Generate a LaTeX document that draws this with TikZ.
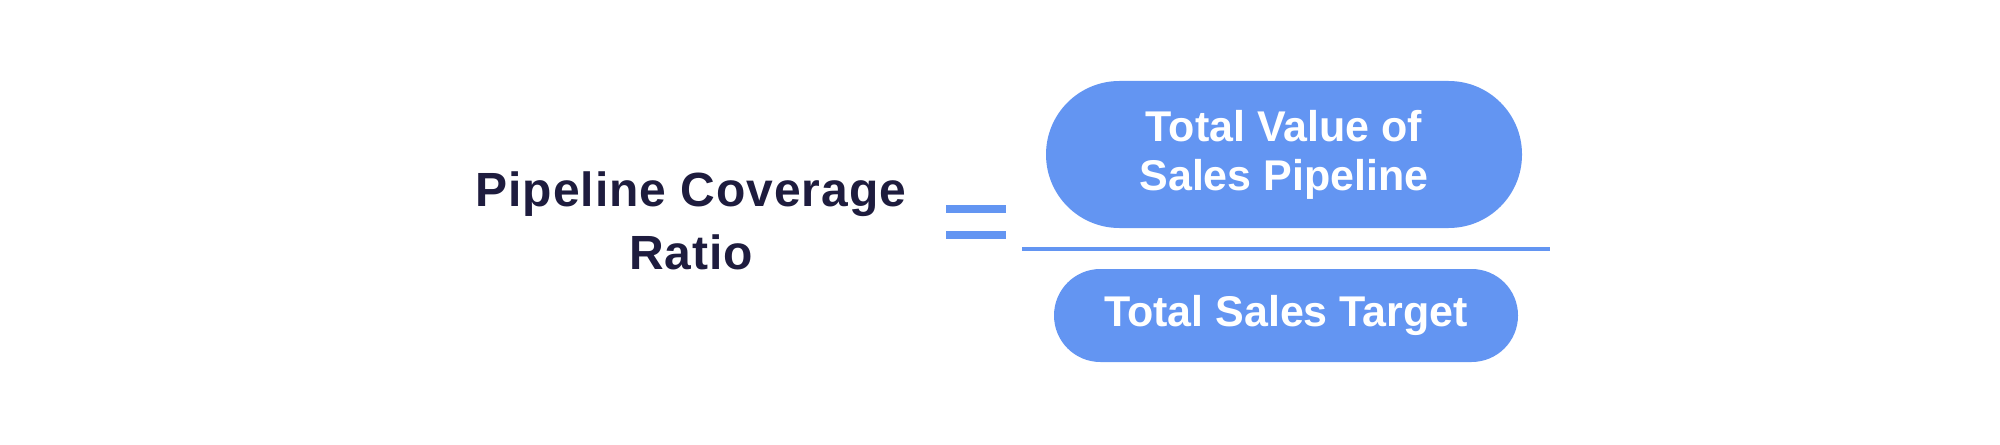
\documentclass[tikz,border=0pt]{standalone}
\usepackage{fontspec}
\setmainfont{Liberation Sans}
\newfontfamily\ratiofont[LetterSpace=2]{Liberation Sans}
\definecolor{pipeblue}{HTML}{6395F2}
\definecolor{inkdark}{HTML}{1E1C3E}
\tikzset{
  pill/.style={fill=pipeblue, text=white, align=center, inner sep=0pt,
    font=\bfseries\fontsize{21.5}{24.5}\selectfont},
}
\begin{document}
\begin{tikzpicture}[x=1pt,y=1pt]
        \useasboundingbox (0,0) rectangle (1000,-222);
        \node[text=inkdark, align=center, font=\ratiofont\bfseries\fontsize{24}{31.5}\selectfont]
          (ratio) at (345.5,-110.5) {Pipeline Coverage\\Ratio};
        \node[pill, minimum width=238pt, minimum height=73.5pt, rounded corners=36.7pt]
          (value) at (642,-77.25) {Total Value of\\Sales Pipeline};
        \node[pill, minimum width=232pt, minimum height=46.5pt, rounded corners=23.2pt]
          (target) at (643,-157.75) {Total Sales Target};
        \coordinate (barL) at (511,-124.5);
        \coordinate (barR) at (775,-124.5);
        \draw[pipeblue, line width=2pt] (barL) -- (barR);
        \foreach \y in {-104.25, -117.5} {
          \fill[pipeblue] (473,\y-2) rectangle (503,\y+2);
        }
      \end{tikzpicture}
\end{document}
